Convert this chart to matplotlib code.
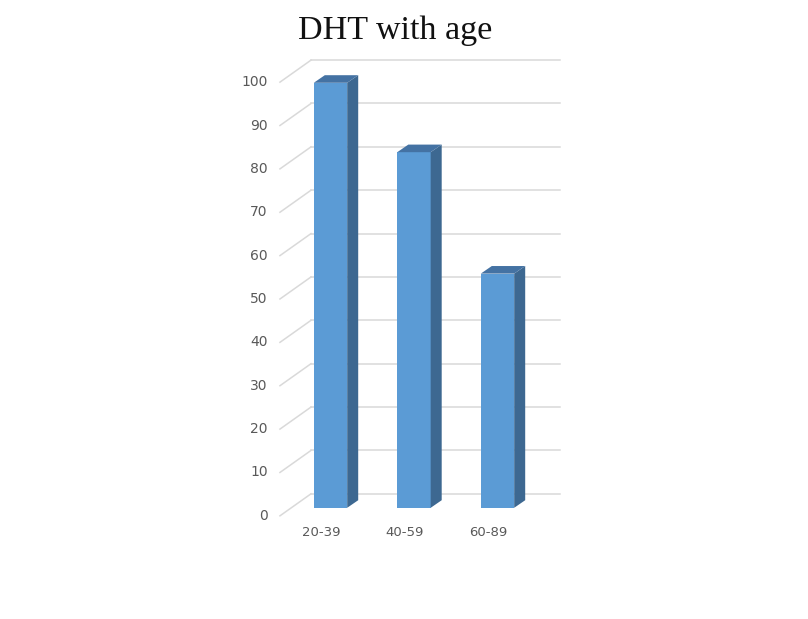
import numpy as np
import matplotlib
matplotlib.use("Agg")
import matplotlib.pyplot as plt
from matplotlib.patches import Polygon

# data
categories = ["20-39", "40-59", "60-89"]
values = [98, 82, 54]
yticks = [0, 10, 20, 30, 40, 50, 60, 70, 80, 90, 100]

# colours (Excel 3D column look)
c_front = "#5B9BD5"
c_side = "#3D6891"
c_top = "#4472A3"
c_grid = "#D9D9D9"
c_text = "#595959"

# oblique depth offsets, in data units (x: category, y: value)
bar_w = 0.40
bar_dx, bar_dy = 0.132, 1.75      # bar depth
front_dx, front_dy = -0.132, -1.85  # front edge of floor vs bar plane
wall_dx, wall_dy = 0.24, 3.23      # back wall vs bar plane
wall_x0 = -0.473
wall_x1 = 2.749

fig = plt.figure(figsize=(8.08, 6.19), dpi=100)
ax = fig.add_axes([0, 0, 1, 1])
ax.set_xlim(-3.958, 5.719)
ax.set_ylim(-25.64, 117.09)
ax.axis("off")

# back wall gridlines + diagonal floor/side ticks
for v in yticks:
    ax.plot([wall_x0 + wall_dx, wall_x1], [v + wall_dy, v + wall_dy],
            color=c_grid, lw=1.1, zorder=1)
    ax.plot([wall_x0 + front_dx, wall_x0 + wall_dx],
            [v + front_dy, v + wall_dy], color=c_grid, lw=1.1, zorder=1)
    ax.text(wall_x0 + front_dx - 0.145, v + front_dy, str(v), ha="right",
            va="center", fontsize=10, color=c_text, family="DejaVu Sans")

# bars
xs = np.arange(len(categories))
ax.bar(xs, values, width=bar_w, color=c_front, zorder=3)
for x, v in zip(xs, values):
    l, r = x - bar_w / 2, x + bar_w / 2
    side = [(r, 0), (r + bar_dx, bar_dy), (r + bar_dx, v + bar_dy), (r, v)]
    top = [(l, v), (r, v), (r + bar_dx, v + bar_dy), (l + bar_dx, v + bar_dy)]
    ax.add_patch(Polygon(side, closed=True, color=c_side, lw=0, zorder=3))
    ax.add_patch(Polygon(top, closed=True, color=c_top, lw=0, zorder=3))

# category labels
for x, lab in zip(xs, categories):
    ax.text(x - 0.114, -5.8, lab, ha="center", va="center", fontsize=9.5,
            color=c_text, family="DejaVu Sans")

fig.text(0.489, 0.951, "DHT with age", ha="center", va="center",
         fontsize=24.5, family="Liberation Serif", color="#111111")

fig.savefig("out.png", dpi=100)
